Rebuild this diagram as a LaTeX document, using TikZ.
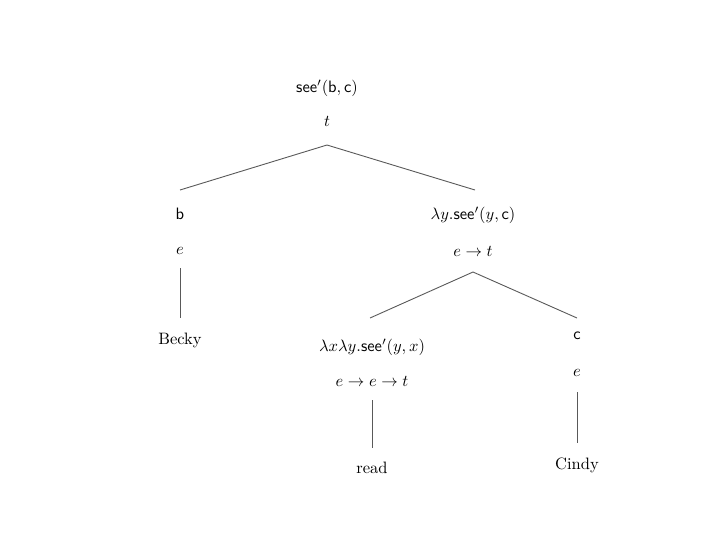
\documentclass[tikz,border=0pt]{standalone}
\usepackage{amsmath}
\begin{document}
\begin{tikzpicture}[x=1pt,y=-1pt,
  lab/.style={inner sep=1pt,scale=1.65,font=\normalsize},
  ln/.style={draw=black!65,line width=0.9pt}]
\useasboundingbox (0,0) rectangle (708,550);
\newcommand{\se}{\mathsf{see}'}
\node[lab] (r1) at (327,88) {$\se(\mathsf{b},\mathsf{c})$};
\node[lab] (r2) at (327,121) {$t$};
\node[lab] (b1) at (180,214) {$\mathsf{b}$};
\node[lab] (b2) at (180,251) {$e$};
\node[lab] (b3) at (180,340) {Becky};
\node[lab] (v1) at (473,215) {$\lambda y.\se(y,\mathsf{c})$};
\node[lab] (v2) at (473,251) {$e\rightarrow t$};
\node[lab] (s1) at (372,347) {$\lambda x\lambda y.\se(y,x)$};
\node[lab] (s2) at (372,381) {$e\rightarrow e\rightarrow t$};
\node[lab] (s3) at (372,468) {read};
\node[lab] (c1) at (577,336) {$\mathsf{c}$};
\node[lab] (c2) at (577,373) {$e$};
\node[lab] (c3) at (577,465) {Cindy};
\coordinate (rt) at (327,145);
\coordinate (vt) at (473,272);
\draw[ln] (rt) -- (180,190);
\draw[ln] (rt) -- (475,190);
\draw[ln] (180,268) -- (180,318);
\draw[ln] (vt) -- (370,318);
\draw[ln] (vt) -- (577,318);
\draw[ln] (372,400) -- (372,448);
\draw[ln] (577,392) -- (577,443);
\end{tikzpicture}
\end{document}
